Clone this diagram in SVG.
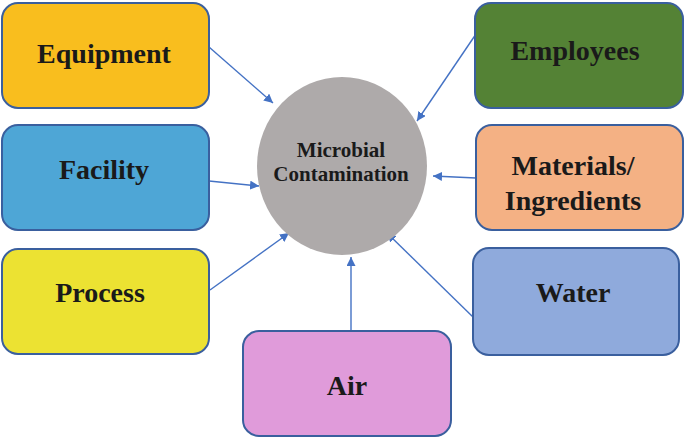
<svg xmlns="http://www.w3.org/2000/svg" width="685" height="438" viewBox="0 0 685 438">
<style>
.box{stroke:#3A5F9E;stroke-width:2}
.lbl{font-family:"Liberation Serif","Times New Roman",serif;font-weight:bold;font-size:28px;fill:#1a1a1a;text-anchor:middle}
.clbl{font-family:"Liberation Serif","Times New Roman",serif;font-weight:bold;font-size:21px;fill:#1a1a1a;text-anchor:middle}
.conn{stroke:#4472C4;stroke-width:1.4;fill:none;marker-end:url(#ah)}
</style>
<defs>
<marker id="ah" viewBox="0 0 10 10" refX="10" refY="5" markerWidth="9" markerHeight="9" markerUnits="userSpaceOnUse" orient="auto">
<path d="M0,0 L10,5 L0,10 z" fill="#4472C4"/>
</marker>
</defs>
<rect width="685" height="438" fill="#ffffff"/>
<g id="connectors">
<line class="conn" x1="209" y1="47" x2="273" y2="103"/>
<line class="conn" x1="209" y1="181" x2="259" y2="186"/>
<line class="conn" x1="210" y1="290" x2="289" y2="233"/>
<line class="conn" x1="351" y1="331" x2="351" y2="257"/>
<line class="conn" x1="474" y1="318" x2="387" y2="233"/>
<line class="conn" x1="476" y1="178" x2="433" y2="176"/>
<line class="conn" x1="476" y1="34" x2="417" y2="121"/>
</g>
<g id="center">
<ellipse cx="342" cy="166" rx="85" ry="89" fill="#AEAAAA"/>
<text class="clbl" x="341" y="157">Microbial</text>
<text class="clbl" x="341" y="181">Contamination</text>
</g>
<g id="equipment">
<rect class="box" x="2" y="3" width="207" height="105" rx="16" fill="#F9BE1E"/>
<text class="lbl" x="104" y="63">Equipment</text>
</g>
<g id="facility">
<rect class="box" x="2" y="125" width="207" height="105" rx="16" fill="#4EA6D6"/>
<text class="lbl" x="104" y="179">Facility</text>
</g>
<g id="process">
<rect class="box" x="2" y="249" width="207" height="105" rx="16" fill="#ECE232"/>
<text class="lbl" x="100" y="302">Process</text>
</g>
<g id="employees">
<rect class="box" x="475" y="3" width="208" height="105" rx="16" fill="#548235"/>
<text class="lbl" x="575" y="60">Employees</text>
</g>
<g id="materials">
<rect class="box" x="476" y="125" width="207" height="105" rx="16" fill="#F4B184"/>
<text class="lbl" x="573" y="175">Materials/</text>
<text class="lbl" x="573" y="210">Ingredients</text>
</g>
<g id="water">
<rect class="box" x="473" y="248" width="206" height="107" rx="16" fill="#8FAADC"/>
<text class="lbl" x="573" y="302">Water</text>
</g>
<g id="air">
<rect class="box" x="243" y="331" width="208" height="105" rx="16" fill="#E09BDA"/>
<text class="lbl" x="347" y="395">Air</text>
</g>
</svg>
